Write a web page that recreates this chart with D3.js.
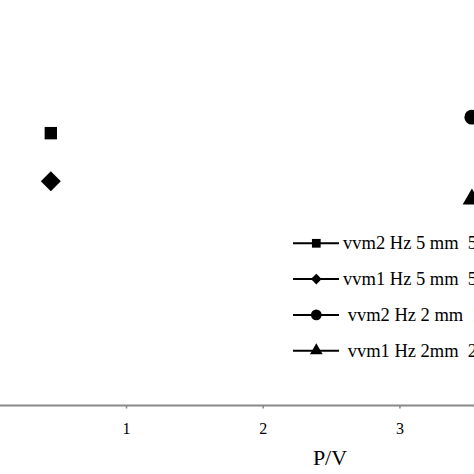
<!DOCTYPE html>
<html>
<head>
  <title>P/V scatter</title>
  <style>
    body {
      background-color: white;
      margin: 0;
      padding: 0;
    }
    text {
      font-family: "Liberation Serif", "Times New Roman", serif;
      white-space: pre;
    }
  </style>
</head>
<body>
  <div id="chart-container"></div>

  <script src="https://d3js.org/d3.v7.min.js"></script>
  <script>
    // Data
    const seriesNames = ['vvm2 Hz 5 mm  5', 'vvm1 Hz 5 mm  5', ' vvm2 Hz 2 mm  1', ' vvm1 Hz 2mm  2'];
    const seriesShapes = ['square', 'diamond', 'circle', 'triangle'];
    const pvValues = [0.45, 0.45, 3.53, 3.53];
    const yValues = [68, 56, 72, 51.5];
    const xTicks = [1, 2, 3];
    const xLabel = 'P/V';

    const width = 474, height = 474;

    const x = d3.scaleLinear().domain([0, 3.5]).range([-10.7, 467.8]);
    const y = d3.scaleLinear().domain([0, 100]).range([405.5, 5]);

    const svg = d3.select('#chart-container').append('svg')
      .attr('width', width)
      .attr('height', height);

    // shape path for a marker, size = area
    function markerPath(shape, size) {
      if (shape === 'square' || shape === 'diamond') return d3.symbol(d3.symbolSquare, size)();
      if (shape === 'circle') return d3.symbol(d3.symbolCircle, size)();
      return d3.symbol(d3.symbolTriangle, size)();
    }

    const chartSizes = { square: 154, diamond: 200, circle: 175, triangle: 148 };
    const legendSizes = { square: 76, diamond: 58, circle: 90, triangle: 70 };

    // x axis
    const axis = svg.append('g')
      .attr('transform', 'translate(0,' + y(0) + ')')
      .call(d3.axisBottom(x).tickValues(xTicks).tickSize(3).tickPadding(14).tickFormat(d3.format('d')));
    axis.select('.domain').remove();
    axis.selectAll('.tick line').attr('stroke', '#888').attr('stroke-width', 1.5);
    axis.selectAll('.tick text')
      .attr('fill', '#000')
      .style('font-size', '16px')
      .style('font-family', '"Liberation Serif", serif');

    svg.append('line')
      .attr('x1', 0).attr('x2', width)
      .attr('y1', y(0)).attr('y2', y(0))
      .attr('stroke', '#888')
      .attr('stroke-width', 1.8);

    svg.append('text')
      .attr('x', 330)
      .attr('y', 465)
      .attr('text-anchor', 'middle')
      .style('font-size', '22px')
      .text(xLabel);

    // points
    svg.selectAll('.pt')
      .data(pvValues)
      .enter()
      .append('path')
      .attr('class', 'pt')
      .attr('d', (d, i) => markerPath(seriesShapes[i], chartSizes[seriesShapes[i]]))
      .attr('transform', (d, i) => 'translate(' + x(d) + ',' + y(yValues[i]) + ')' + (seriesShapes[i] === 'diamond' ? ' rotate(45)' : ''))
      .attr('fill', '#000');

    // legend
    const legendTop = 243.3, legendStep = 35.8;
    const legend = svg.selectAll('.leg')
      .data(seriesNames)
      .enter()
      .append('g')
      .attr('class', 'leg')
      .attr('transform', (d, i) => 'translate(0,' + (legendTop + i * legendStep) + ')');

    legend.append('line')
      .attr('x1', 293).attr('x2', 339)
      .attr('y1', 0).attr('y2', 0)
      .attr('stroke', '#000')
      .attr('stroke-width', 2);

    legend.append('path')
      .attr('d', (d, i) => markerPath(seriesShapes[i], legendSizes[seriesShapes[i]]))
      .attr('transform', (d, i) => 'translate(316.3,0)' + (seriesShapes[i] === 'diamond' ? ' rotate(45)' : ''))
      .attr('fill', '#000');

    legend.append('text')
      .attr('x', 343)
      .attr('y', 6)
      .style('font-size', '18.5px')
      .text(d => d);
  </script>
</body>
</html>
